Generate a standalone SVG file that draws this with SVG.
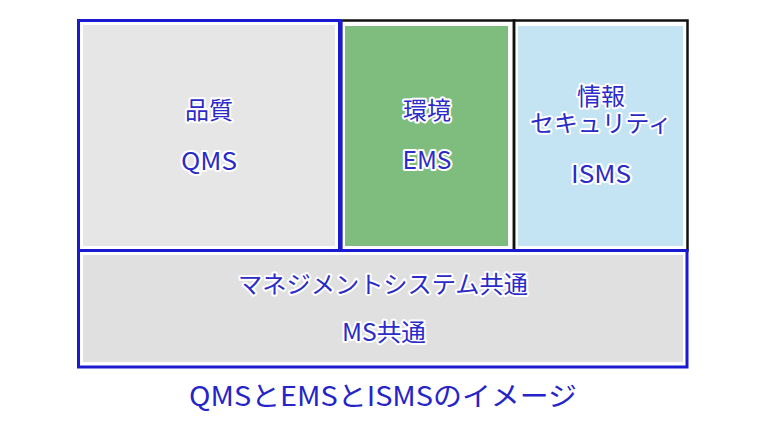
<svg xmlns="http://www.w3.org/2000/svg" width="768" height="424" viewBox="0 0 768 424">
<style>
.lbl{font-family:"Noto Sans CJK JP","Noto Sans",sans-serif;font-size:24px;fill:#2b2bc8;stroke:#fff;stroke-width:4px;stroke-linejoin:round;paint-order:stroke;text-anchor:middle}
.cap{font-family:"Noto Sans CJK JP","Noto Sans",sans-serif;font-size:27px;fill:#2424c8;text-anchor:middle}
</style>
<rect width="768" height="424" fill="#fff"/>
<g id="isms">
<rect x="514" y="20.5" width="173.5" height="230" fill="#fff" stroke="#111" stroke-width="2.5"/>
<rect x="518" y="26" width="165" height="220" fill="#c4e4f4"/>
<text class="lbl" x="601" y="105">情報</text>
<text class="lbl" x="601" y="132" textLength="142" lengthAdjust="spacingAndGlyphs">セキュリティ</text>
<text class="lbl" x="601" y="183" textLength="60" lengthAdjust="spacingAndGlyphs">ISMS</text>
</g>
<g id="ems">
<rect x="341" y="20.5" width="173" height="230" fill="none" stroke="#111" stroke-width="2.5"/>
<line x1="341" y1="20" x2="341" y2="251" stroke="#1a1ad0" stroke-width="3"/>
<rect x="345" y="26" width="163" height="220" fill="#7fbd7f"/>
<text class="lbl" x="427" y="119">環境</text>
<text class="lbl" x="427" y="169" textLength="49" lengthAdjust="spacingAndGlyphs">EMS</text>
</g>
<g id="qms">
<rect x="78.5" y="20.5" width="261" height="230" fill="#fff" stroke="#1a1ad0" stroke-width="3"/>
<rect x="83" y="25" width="252" height="221" fill="#e6e6e6"/>
<text class="lbl" x="209" y="119">品質</text>
<text class="lbl" x="209" y="170" textLength="56" lengthAdjust="spacingAndGlyphs">QMS</text>
</g>
<g id="common">
<rect x="78.5" y="250.5" width="608.5" height="116.5" fill="#fff" stroke="#1a1ad0" stroke-width="3"/>
<rect x="83" y="255" width="600" height="107" fill="#e0e0e0"/>
<text class="lbl" x="383" y="293" textLength="290" lengthAdjust="spacingAndGlyphs">マネジメントシステム共通</text>
<text class="lbl" x="384" y="341" textLength="84" lengthAdjust="spacingAndGlyphs">MS共通</text>
</g>
<g id="connectors"/>
<text class="cap" x="383" y="406" textLength="388" lengthAdjust="spacingAndGlyphs">QMSとEMSとISMSのイメージ</text>
</svg>
